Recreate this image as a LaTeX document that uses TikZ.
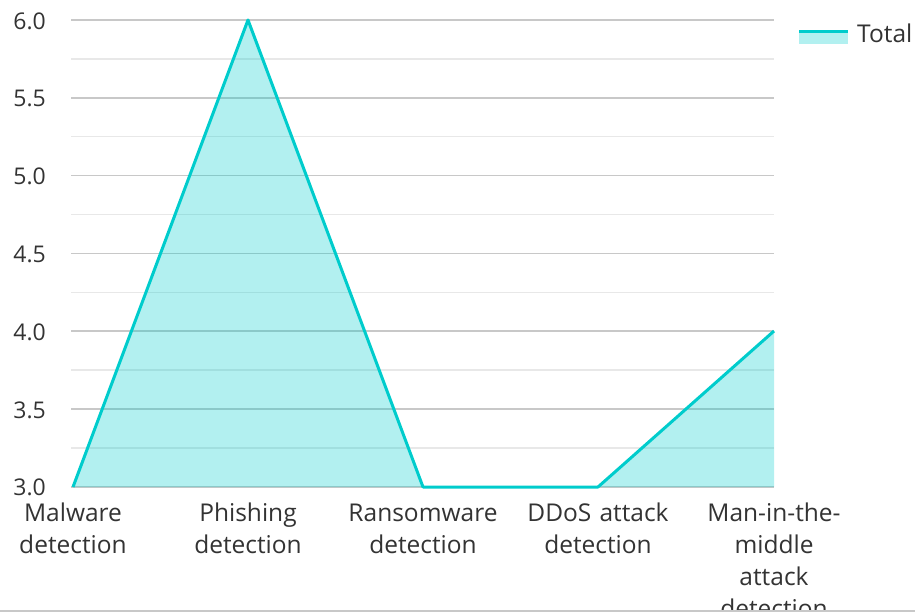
\documentclass[tikz,border=0pt]{standalone}
\usepackage{fontspec}
\setmainfont{Open Sans}
\usepackage{tikz}
\usetikzlibrary{positioning, calc}

\definecolor{turq}{RGB}{0,204,204}
\definecolor{majorgrid}{RGB}{200,200,200}
\definecolor{minorgrid}{RGB}{232,232,232}
\definecolor{labelgray}{RGB}{51,51,51}

\tikzset{
  ticklabel/.style={font=\fontsize{23}{32}\selectfont, text=labelgray, inner sep=0pt},
  catlabel/.style={ticklabel, font=\fontsize{24.5}{32}\selectfont, align=center, text width=180pt, anchor=base},
  series/.style={turq, line width=3pt, line join=round},
  seriesfill/.style={fill=turq, fill opacity=0.3}
}

\begin{document}
\begin{tikzpicture}[x=1pt, y=-1pt]
\useasboundingbox (0,0) rectangle (915,612);

% Grid: one major line per 0.5, a lighter one in between
\foreach \i in {0,...,5} {
    \draw[minorgrid, line width=1.5pt] (71,{20+77.8*\i+38.9}) -- (774,{20+77.8*\i+38.9});
}
\foreach \v [count=\i from 0] in {6.0, 5.5, 5.0, 4.5, 4.0, 3.5, 3.0} {
    \draw[majorgrid, line width=1.5pt] (71,{20+77.8*\i}) -- (774,{20+77.8*\i});
    \node[ticklabel, anchor=east] (ytick\i) at (46,{21+77.8*\i}) {\v};
}

% Data points (Total)
\coordinate (p1) at (73,487);
\coordinate (p2) at (248,20);
\coordinate (p3) at (423,487);
\coordinate (p4) at (598,487);
\coordinate (p5) at (774,331);

% Area under the series
\fill[seriesfill] (p1) -- (p2) -- (p3) -- (p4) -- (p5) -- (774,487) -- cycle;
\draw[series] (p1) -- (p2) -- (p3) -- (p4) -- (p5);

% Category labels, cut off at the bottom edge
\begin{scope}
\clip (0,0) rectangle (915,609);
\node[catlabel] (cat1) at (73,521) {Malware\\detection};
\node[catlabel] (cat2) at (248,521) {Phishing\\detection};
\node[catlabel] (cat3) at (423,521) {Ransomware\\detection};
\node[catlabel] (cat4) at (598,521) {DDoS attack\\detection};
\node[catlabel] (cat5) at (774,521) {Man-in-the-\\middle\\attack\\detection};
\end{scope}

% Legend
\fill[seriesfill] (799,32) rectangle (848,44);
\draw[series] (799,32) -- (848,32);
\node[ticklabel, font=\fontsize{24.5}{32}\selectfont, anchor=west] (legend) at (857,33) {Total};

% Bottom border
\draw[majorgrid, line width=2pt] (0,611) -- (915,611);
\end{tikzpicture}
\end{document}
